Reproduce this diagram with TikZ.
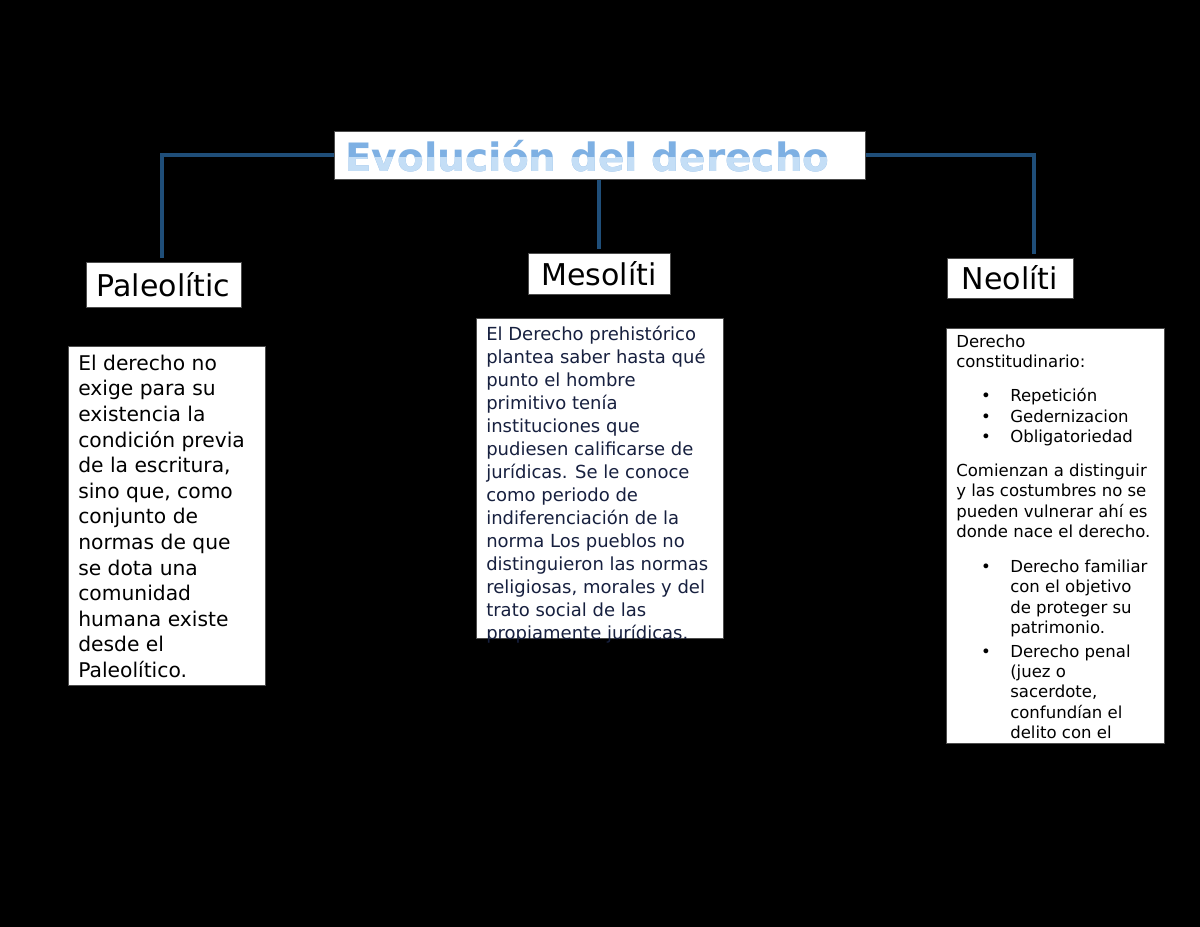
\documentclass[tikz,border=0pt]{standalone}
\usepackage{fontspec}
\setmainfont{DejaVu Sans}
\usepackage{tikz}

\definecolor{linkblue}{HTML}{1F4E79}
\definecolor{titletop}{HTML}{7EB0E3}
\definecolor{titlebot}{HTML}{C4DEF6}
\definecolor{navytext}{HTML}{17203F}

\newcommand\neoitem[1]{{\leftskip=40.5pt\noindent\llap{\makebox[21.9pt][l]{\textbullet}}#1\par}}

\begin{document}
\begin{tikzpicture}[x=0.75pt,y=-0.75pt,
	head node/.style={draw=black!70,fill=white,inner sep=0pt,font=\fontsize{22.5}{26}\selectfont},
	text node/.style={draw=black!70,fill=white,inner xsep=7.5pt,inner ysep=0pt,anchor=north west},
	title text/.style={font=\fontsize{29.3}{34}\selectfont\bfseries,inner sep=0pt,anchor=base west},
	link/.style={draw=linkblue,line width=3pt,shorten >=3pt}]
	
	\fill[black] (0,0) rectangle (1200,927);
	\useasboundingbox (0,0) rectangle (1200,927);
	
	% title
	\node[draw=black!70,fill=white,minimum width=398.25pt,minimum height=36pt,inner sep=0pt,anchor=north west] (title) at (334,131) {};
	\node[title text,text=titletop] (evo) at (345,172) {Evolución del derecho};
	\begin{scope}
		\clip (334,158) rectangle (865,179);
		\node[title text,text=titlebot] (evolow) at (345,172) {Evolución del derecho};
	\end{scope}
	
	% periods
	\node[head node,minimum width=116.25pt,minimum height=33.75pt] (paleo) at (163.5,284.5) {Paleolític};
	\node[head node,minimum width=106.5pt,minimum height=30.75pt] (meso) at (599,273.5) {Mesolíti};
	\node[head node,minimum width=94.5pt,minimum height=30pt] (neo) at (1010,278) {Neolíti};
	\coordinate (neotop) at (1034,258);
	
	\draw[link] (title.west) -| ([xshift=-1.5pt]paleo.north);
	\draw[link] (meso.north |- title.south) -- (meso.north);
	\draw[link] (title.east) -| (neotop);
	
	% texts
	\node[text node] (paleotext) at (68,346) {\parbox[t][254.25pt][t]{132.75pt}{\fontsize{15.2}{19.2}\selectfont\raggedright
		\vspace*{6.5pt}
		El derecho no\\exige para su\\existencia la\\condición previa\\de la escritura,\\sino que, como\\conjunto de\\normas de que\\se dota una\\comunidad\\humana existe\\desde el\\Paleolítico.\par}};
	
	\node[text node] (mesotext) at (476,318) {\parbox[t][240pt][t]{170.25pt}{\fontsize{13.5}{17.2}\selectfont\raggedright\color{navytext}
		\vspace*{6.2pt}
		El Derecho prehistórico\\plantea saber hasta qué\\punto el hombre\\primitivo tenía\\instituciones que\\pudiesen calificarse de\\jurídicas. Se le conoce\\como periodo de\\indiferenciación de la\\norma Los pueblos no\\distinguieron las normas\\religiosas, morales y del\\trato social de las\\propiamente jurídicas.\par}};
	
	\node[text node] (neotext) at (946,328) {\parbox[t][311.25pt][t]{148.5pt}{\fontsize{12.4}{15.3}\selectfont\raggedright
		\vspace*{4.8pt}
		Derecho\\constitudinario:\par
		\vspace{10.2pt}
		\neoitem{Repetición}
		\neoitem{Gedernizacion}
		\neoitem{Obligatoriedad}
		\vspace{10.2pt}
		\noindent Comienzan a distinguir\\y las costumbres no se\\pueden vulnerar ahí es\\donde nace el derecho.\par
		\vspace{10.8pt}
		\neoitem{Derecho familiar\\con el objetivo\\de proteger su\\patrimonio.}
		\vspace{2.25pt}
		\neoitem{Derecho penal\\(juez o\\sacerdote,\\confundían el\\delito con el}}};
	
\end{tikzpicture}
\end{document}
